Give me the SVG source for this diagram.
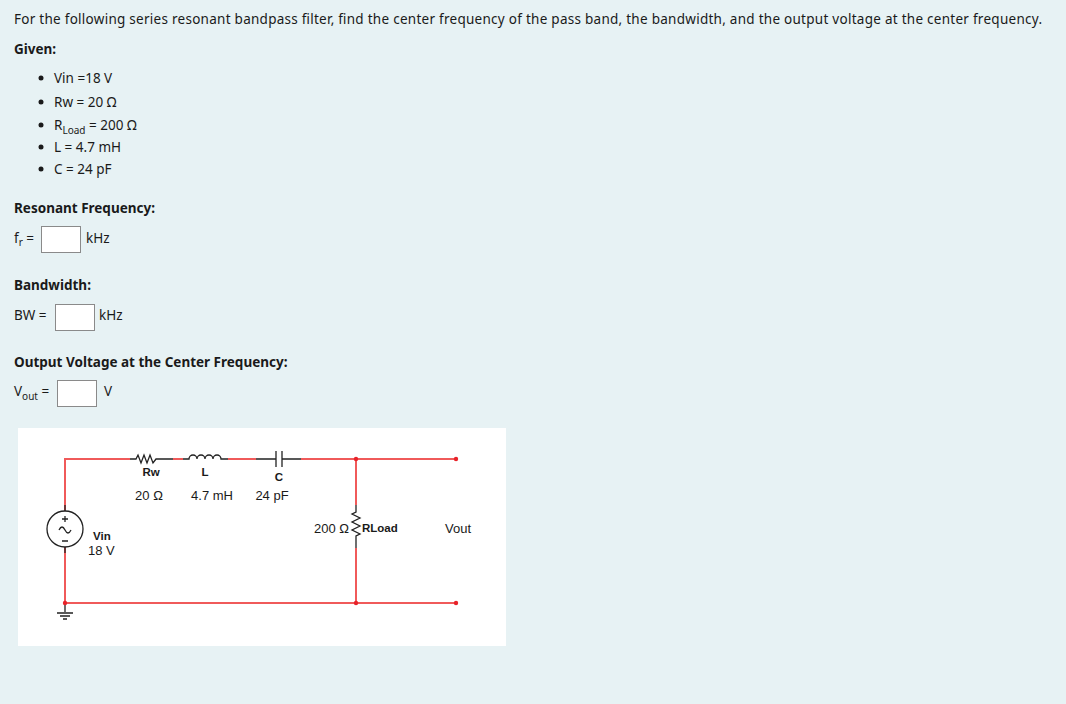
<svg xmlns="http://www.w3.org/2000/svg" width="1066" height="704" viewBox="0 0 1066 704">
<style>
text{font-family:"Noto Sans","Open Sans",sans-serif;fill:#1a1a1a;font-size:13.5px}
.b{font-weight:bold}
.box{fill:#fff;stroke:#8a8a8a;stroke-width:1}
.w{stroke:#f05a5a;stroke-width:2;fill:none}
.k{stroke:#222;stroke-width:1.3;fill:none}
.c{font-family:"Liberation Sans",Arial,sans-serif;font-size:13px}
.cb{font-family:"Liberation Sans",Arial,sans-serif;font-size:11.5px;font-weight:bold}
.d{fill:#e8232a}
</style>
<rect width="1066" height="704" fill="#e7f2f4"/>
<text x="14" y="24" textLength="1028">For the following series resonant bandpass filter, find the center frequency of the pass band, the bandwidth, and the output voltage at the center frequency.</text>
<text x="14" y="54" class="b">Given:</text>
<g>
<circle cx="41" cy="78" r="2.5" fill="#1a1a1a"/><text x="54" y="83">Vin =18 V</text>
<circle cx="41" cy="102" r="2.5" fill="#1a1a1a"/><text x="54" y="107">Rw = 20 Ω</text>
<circle cx="41" cy="125" r="2.5" fill="#1a1a1a"/><text x="54" y="130">R<tspan font-size="10" dy="4">Load</tspan><tspan dy="-4"> = 200 Ω</tspan></text>
<circle cx="41" cy="147" r="2.5" fill="#1a1a1a"/><text x="54" y="152">L = 4.7 mH</text>
<circle cx="41" cy="169" r="2.5" fill="#1a1a1a"/><text x="54" y="174">C = 24 pF</text>
</g>
<text x="14" y="213" class="b">Resonant Frequency:</text>
<text x="14" y="243">f<tspan font-size="10" dy="3">r</tspan><tspan dy="-3"> =</tspan></text>
<rect class="box" x="41.5" y="226.5" width="39" height="26"/>
<text x="86" y="243">kHz</text>
<text x="14" y="290" class="b">Bandwidth:</text>
<text x="14" y="320">BW =</text>
<rect class="box" x="55.5" y="304.5" width="39" height="26"/>
<text x="99" y="320">kHz</text>
<text x="14" y="367" class="b">Output Voltage at the Center Frequency:</text>
<text x="14" y="396">V<tspan font-size="10" dy="4">out</tspan><tspan dy="-4"> =</tspan></text>
<rect class="box" x="57.5" y="380.5" width="39" height="26"/>
<text x="104" y="396">V</text>

<rect x="18" y="428" width="488" height="218" fill="#fff"/>
<g id="connectors">
<path class="w" d="M65 511 V459 H130 M173 459 H183 M228 459 H256 M301 459 H456 M356 459 V505 M356 548 V603 M65 547 V603 H456"/>
</g>
<g id="Rw"><path class="k" d="M130 459 H136 l2 -4 l3 8 l3 -8 l3 8 l3 -8 l3 8 l3 -4 H173"/>
<text class="cb" x="151" y="476" text-anchor="middle">Rw</text><text class="c" x="149" y="500" text-anchor="middle">20 Ω</text></g>
<g id="L"><path class="k" d="M183 459 H189 a4 4 0 0 1 8 0 a4 4 0 0 1 8 0 a4 4 0 0 1 8 0 a4 4 0 0 1 8 0 H228"/>
<text class="cb" x="205" y="476" text-anchor="middle">L</text><text class="c" x="212" y="500" text-anchor="middle">4.7 mH</text></g>
<g id="C"><path class="k" d="M256 459 H276 M282 459 H301 M276 451 V467 M282 451 V467"/>
<text class="cb" x="279" y="481" text-anchor="middle">C</text><text class="c" x="272" y="500" text-anchor="middle">24 pF</text></g>
<g id="RLoad"><path class="k" d="M356 505 V512 l-4 2 l8 4 l-8 4 l8 4 l-8 4 l8 4 l-4 2 V548"/>
<text class="c" x="349" y="533" text-anchor="end">200 Ω</text><text class="cb" x="362" y="532">RLoad</text></g>
<g id="Vin"><circle cx="65" cy="529" r="18" class="k" fill="#fff"/><path class="k" d="M65 511 V505 M65 547 V553 M59 530 q3 -6 6 0 t6 0 M62 519 h6 M65 516 v6 M62 541 h6"/>
<text class="cb" x="93" y="540">Vin</text><text class="c" x="88" y="555">18 V</text></g>
<g id="gnd"><path class="k" d="M65 603 V612 M57 613 H73 M60 616 H70 M63 619 H67"/></g>
<circle class="d" cx="65" cy="603" r="2.2"/><circle class="d" cx="356" cy="459" r="2.2"/><circle class="d" cx="356" cy="603" r="2.2"/>
<circle class="d" cx="456" cy="459" r="2.2"/><circle class="d" cx="456" cy="603" r="2.2"/>
<text class="c" x="458" y="533" text-anchor="middle">Vout</text>
</svg>
